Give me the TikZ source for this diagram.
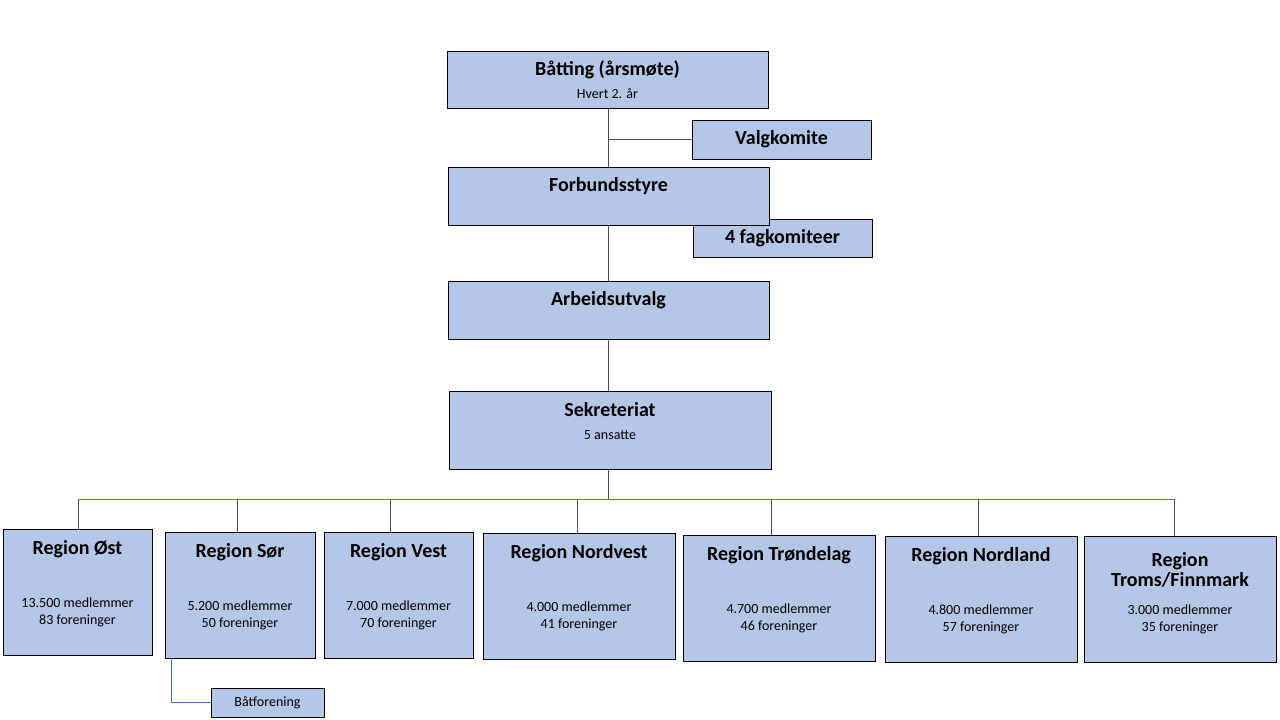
\documentclass[tikz,border=0pt]{standalone}
\usepackage{fontspec}
\setmainfont{Carlito}
\begin{document}
\begin{tikzpicture}[x=1pt,y=-1pt,
 box/.style={draw=black,fill=boxfill,line width=0.8pt},
 ttl/.style={font=\bfseries\fontsize{20}{22}\selectfont,anchor=center},
 sub/.style={font=\fontsize{14}{17}\selectfont,align=center,anchor=center},
 ln/.style={draw=black!70,line width=0.8pt},
 bl/.style={draw=blueline,line width=0.8pt}]
\definecolor{boxfill}{HTML}{B4C7E7}
\definecolor{blueline}{HTML}{4472C4}
\useasboundingbox (0,0) rectangle (1280,720);
% spine
\coordinate (s1) at (608,108); \coordinate (s2) at (608,499);
\draw[ln] (s1) -- (s2);
\coordinate (v0) at (608,139);
\draw[ln] (v0) -- (692,139);
\draw[bl] (78,499) -- (1174,499);
% boxes
\draw[box] (447,51) rectangle (768,108);
\node[ttl] (batt) at (607.5,70) {Båtting (årsmøte)};
\node[sub] (batts) at (607.5,94) {Hvert 2. år};
\draw[box] (692,120) rectangle (871,159);
\node[ttl] (valg) at (781.5,139.5) {Valgkomite};
\draw[box] (693,219) rectangle (872,257);
\node[ttl] (fag) at (782.5,238) {4 fagkomiteer};
\draw[box] (448,167) rectangle (769,225);
\node[ttl] (forb) at (608.5,186) {Forbundsstyre};
\draw[box] (448,281) rectangle (769,339);
\node[ttl] (arb) at (608.5,300) {Arbeidsutvalg};
\draw[box] (449,391) rectangle (771,469);
\node[ttl] (sek) at (610,410) {Sekreteriat};
\node[sub] (seks) at (610,435) {5 ansatte};
% regions
\foreach \x/\a/\b/\c/\d/\t/\m/\f/\n in {
 78/3/529/152/655/Region Øst/13.500/83/o,
 237/165/532/315/658/Region Sør/5.200/50/s,
 390/324/532/473/658/Region Vest/7.000/70/v,
 577/483/533/675/659/Region Nordvest/4.000/41/nv,
 771/683/535/875/661/Region Trøndelag/4.700/46/t,
 978/885/536/1077/662/Region Nordland/4.800/57/nl}{
 \draw[ln] (\x,499) -- (\x,\b);
 \draw[box] (\a,\b) rectangle (\c,\d);
 \node[ttl] (r\n) at ({(\a+\c)/2},\b+20) {\t};
 \node[sub] (rs\n) at ({(\a+\c)/2},\b+83) {\m\ medlemmer\\\f\ foreninger};
}
\draw[ln] (1174,499) -- (1174,536);
\draw[box] (1084,536) rectangle (1276,662);
\node[ttl,align=center] (rtf) at (1180,570) {Region\\[-2pt]Troms/Finnmark};
\node[sub] (rstf) at (1180,619) {3.000 medlemmer\\35 foreninger};
% båtforening
\draw[box] (211,688) rectangle (324,717);
\node[sub] (bf) at (267.5,702.5) {Båtforening};
\draw[bl] (171,658) -- (171,702) -- (211,702);
\end{tikzpicture}
\end{document}
